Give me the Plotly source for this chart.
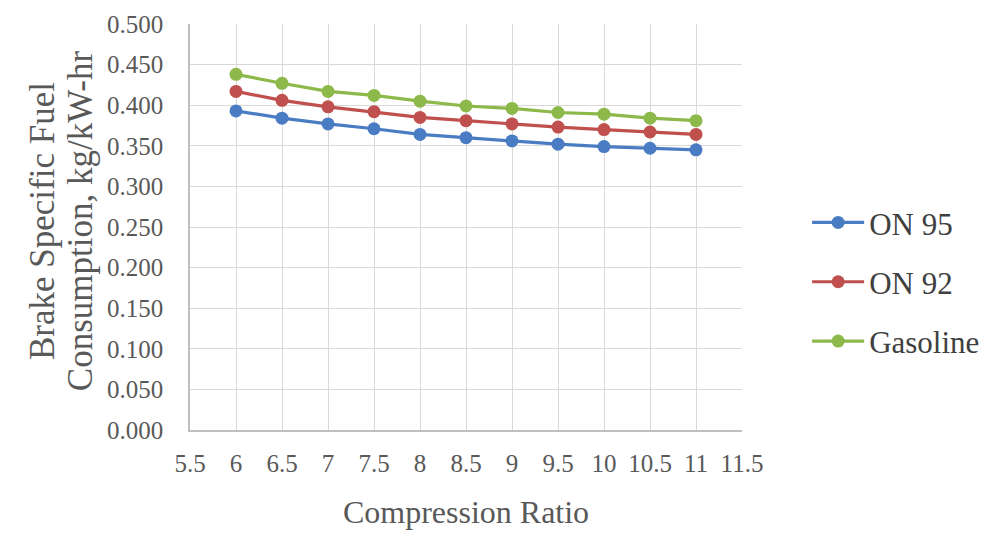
import plotly.graph_objects as go

compression_ratio = [6, 6.5, 7, 7.5, 8, 8.5, 9, 9.5, 10, 10.5, 11]
on95 = [0.393, 0.384, 0.377, 0.371, 0.364, 0.360, 0.356, 0.352, 0.349, 0.347, 0.345]
on92 = [0.417, 0.406, 0.398, 0.392, 0.385, 0.381, 0.377, 0.373, 0.370, 0.367, 0.364]
gasoline = [0.438, 0.427, 0.417, 0.412, 0.405, 0.399, 0.396, 0.391, 0.389, 0.384, 0.381]

x_ticks = [5.5, 6, 6.5, 7, 7.5, 8, 8.5, 9, 9.5, 10, 10.5, 11, 11.5]
x_ticklabels = ["5.5", "6", "6.5", "7", "7.5", "8", "8.5", "9", "9.5", "10", "10.5", "11", "11.5"]
y_ticks = [i * 0.05 for i in range(11)]
y_ticklabels = ["%.3f" % v for v in y_ticks]
y_title_lines = ["Brake Specific Fuel", "Consumption, kg/kW-hr"]

series = [
    ("ON 95", on95, "#4A7CC4"),
    ("ON 92", on92, "#C0504D"),
    ("Gasoline", gasoline, "#8DB84A"),
]

fig = go.Figure()
for i, (name, vals, col) in enumerate(series):
    fig.add_trace(go.Scatter(
        x=compression_ratio, y=vals, name=name, mode="lines+markers",
        line=dict(color=col, width=3.2),
        marker=dict(color=col, size=13),
        legendgroup="g%d" % i,
    ))

font_family = "Liberation Serif, Times New Roman, serif"

# two-line rotated y-axis title
for xpos, txt in zip([-0.266, -0.197], y_title_lines):
    fig.add_annotation(
        x=xpos, y=0.515, xref="paper", yref="paper",
        xanchor="center", yanchor="middle", textangle=-90,
        text=txt, showarrow=False,
        font=dict(family=font_family, size=35, color="#595959"),
    )

fig.update_layout(
    width=1001, height=547,
    margin=dict(l=190, r=259, t=24, b=117),
    paper_bgcolor="white", plot_bgcolor="white",
    font=dict(family=font_family, color="#595959"),
    showlegend=True,
    legend=dict(
        x=1.118, y=0.365, xanchor="left", yanchor="middle",
        font=dict(family=font_family, size=31, color="#404040"),
        traceorder="grouped", tracegroupgap=16,
        itemwidth=52,
    ),
    xaxis=dict(
        range=[5.5, 11.5], tickvals=x_ticks, ticktext=x_ticklabels,
        showgrid=True, gridcolor="#D9D9D9", gridwidth=1,
        showline=True, linecolor="#BFBFBF", linewidth=1.5,
        zeroline=False, ticks="", ticklabelstandoff=10,
        tickfont=dict(family=font_family, size=25, color="#595959"),
        title=dict(text="Compression Ratio", standoff=25,
                   font=dict(family=font_family, size=32, color="#595959")),
    ),
    yaxis=dict(
        range=[0, 0.5], tickvals=y_ticks, ticktext=y_ticklabels,
        showgrid=True, gridcolor="#D9D9D9", gridwidth=1,
        showline=True, linecolor="#BFBFBF", linewidth=1.5,
        zeroline=False, ticks="", ticklabelstandoff=20,
        tickfont=dict(family=font_family, size=25, color="#595959"),
    ),
)

fig.write_html("out.html")
